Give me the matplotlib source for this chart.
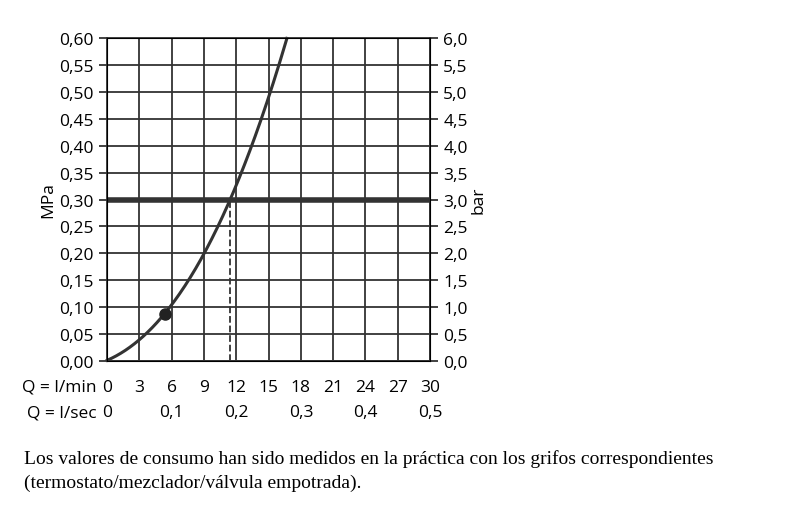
import matplotlib
matplotlib.use("Agg")
import matplotlib.pyplot as plt
import numpy as np

flow_lmin = [0, 3, 5.4, 7, 9, 11.4, 13, 15, 16.7]
pressure_mpa = [0, 0.045, 0.087, 0.13, 0.20, 0.30, 0.38, 0.487, 0.60]
dot_x, dot_y = 5.4, 0.087
ref_pressure = 0.30
ref_flow = 11.4
lmin_ticks = [0, 3, 6, 9, 12, 15, 18, 21, 24, 27, 30]
lsec_labels = ["0", "0,1", "0,2", "0,3", "0,4", "0,5"]
mpa_ticks = [round(0.05 * i, 2) for i in range(13)]

plt.rcParams['font.family'] = ['Open Sans', 'DejaVu Sans']
fig = plt.figure(figsize=(8, 5.1), dpi=100)
ax = fig.add_axes([0.134, 0.29, 0.4035, 0.6335])
ax.set_xlim(0, 30); ax.set_ylim(0, 0.6)
ax.set_xticks(lmin_ticks); ax.set_yticks(mpa_ticks)
ax.grid(True, color='#333', lw=1.3)
for s in ax.spines.values():
    s.set_color('#333'); s.set_linewidth(1.3)
ax.set_yticklabels([f"{v:.2f}".replace('.', ',') for v in mpa_ticks], fontsize=12.5)
ax.tick_params(axis='y', length=6, width=1.3, color='#333', right=True, direction='out')
ax.tick_params(axis='x', length=0, labelbottom=False)
ax.set_ylabel("MPa", fontsize=12.5, labelpad=2)
ax2 = ax.twinx()
ax2.set_ylim(0, 6)
ax2.set_yticks([0.5 * i for i in range(13)])
ax2.set_yticklabels([f"{0.5*i:.1f}".replace('.', ',') for i in range(13)], fontsize=12.5)
ax2.tick_params(axis='y', length=6, width=1.3, color='#333')
ax2.set_ylabel("bar", fontsize=12.5, labelpad=2)

xs = np.linspace(0, 16.7, 200)
c = np.polyfit(flow_lmin, pressure_mpa, 3)
ax.plot(xs, np.polyval(c, xs), color='#333', lw=2.2, clip_on=False)
ax.plot(dot_x, dot_y, 'o', color='#222', ms=8)
ax.axhline(ref_pressure, color='#333', lw=4)
ax.plot([ref_flow, ref_flow], [0, ref_pressure], '--', color='#333', lw=1.3)

for v in lmin_ticks:
    ax.text(v, -0.048, str(v), ha='center', va='center', fontsize=12.5)
ax.text(-1.0, -0.048, "Q = l/min", ha='right', va='center', fontsize=12.5)
for i, lab in enumerate(lsec_labels):
    ax.text(i * 6, -0.095, lab, ha='center', va='center', fontsize=12.5)
ax.text(-1.0, -0.095, "Q = l/sec", ha='right', va='center', fontsize=12.5)

fig.text(0.03, 0.035, "Los valores de consumo han sido medidos en la práctica con los grifos correspondientes\n(termostato/mezclador/válvula empotrada).",
         fontsize=14, family='Liberation Serif', va='bottom', linespacing=1.5)
fig.savefig("out.png", dpi=100)
